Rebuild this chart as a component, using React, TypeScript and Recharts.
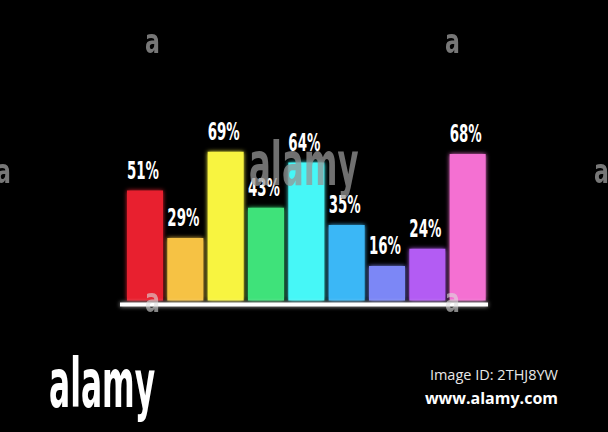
import React from 'react';
import { Bar, BarChart, Cell, LabelList, ReferenceLine, XAxis, YAxis } from 'recharts';

const CATEGORIES = ['A', 'B', 'C', 'D', 'E', 'F', 'G', 'H', 'I'];
const VALUES = [51, 29, 69, 43, 64, 35, 16, 24, 68];
const BAR_COLORS = [
  '#e8202f',
  '#f6c244',
  '#f8f440',
  '#3fe27a',
  '#46f7f7',
  '#3bb7f6',
  '#7c87f6',
  '#b35cf3',
  '#f470d2',
];

const data = CATEGORIES.map((name, i) => ({ name, value: VALUES[i] }));

const CONDENSED = "'DejaVu Sans Condensed', 'Liberation Sans Narrow', 'DejaVu Sans', sans-serif";

// value label drawn narrow, like the condensed display face in the reference
function PercentLabel(props: any) {
  const { x, y, width, value } = props;
  const cx = Number(x) + Number(width) / 2 - 2;
  const cy = Number(y) - 12;
  return (
    <text
      transform={`translate(${cx},${cy}) scale(0.62,1)`}
      x={0}
      y={0}
      textAnchor="middle"
      fill="#ffffff"
      fontFamily={CONDENSED}
      fontWeight="bold"
      fontSize={24}
    >
      {`${value}%`}
    </text>
  );
}

const mark = (x: number, y: number, size: number, color: string, text = 'a', sx = 0.72) => (
  <div
    style={{
      position: 'absolute',
      left: x,
      top: y,
      fontFamily: CONDENSED,
      fontWeight: 'bold',
      fontSize: size,
      lineHeight: 1,
      color,
      transform: `scaleX(${sx})`,
      transformOrigin: 'left top',
      pointerEvents: 'none',
      whiteSpace: 'nowrap',
    }}
  >
    {text}
  </div>
);

export default function App() {
  return (
    <div
      style={{
        position: 'absolute',
        left: 0,
        top: 0,
        width: 608,
        height: 432,
        background: '#000000',
        overflow: 'hidden',
      }}
    >
      <BarChart
        width={608}
        height={432}
        data={data}
        margin={{ top: 85, right: 120, bottom: 125, left: 120 }}
        barCategoryGap={2}
      >
        <XAxis dataKey="name" hide padding={{ left: 5, right: 0 }} />
        <YAxis hide domain={[-3, 100]} />
        <ReferenceLine
          y={-1.8}
          stroke="#ffffff"
          strokeWidth={4}
          style={{ filter: 'drop-shadow(0 0 2px rgba(255,255,255,0.7))' }}
        />
        <Bar dataKey="value" isAnimationActive={false}>
          {data.map((_, i) => (
            <Cell
              key={i}
              fill={BAR_COLORS[i]}
              style={{ filter: `drop-shadow(0 0 2px ${BAR_COLORS[i]})` }}
            />
          ))}
          <LabelList dataKey="value" content={PercentLabel} />
        </Bar>
      </BarChart>

      {/* stock-photo watermarks */}
      {mark(145, 24, 34, 'rgba(140,140,140,0.85)')}
      {mark(445, 24, 34, 'rgba(140,140,140,0.85)')}
      {mark(-4, 154, 34, 'rgba(140,140,140,0.85)')}
      {mark(594, 154, 34, 'rgba(140,140,140,0.85)')}
      {mark(145, 283, 34, 'rgba(220,220,220,0.6)')}
      {mark(445, 283, 34, 'rgba(220,220,220,0.6)')}
      {mark(249, 134, 60, 'rgba(150,150,150,0.75)', 'alamy', 0.6)}

      {/* footer */}
      {mark(49, 351, 67, '#ffffff', 'alamy', 0.52)}
      <div
        style={{
          position: 'absolute',
          right: 50,
          top: 365,
          fontFamily: "'Open Sans', sans-serif",
          fontSize: 14.5,
          color: '#e8e8e8',
          textAlign: 'right',
        }}
      >
        Image ID: 2THJ8YW
      </div>
      <div
        style={{
          position: 'absolute',
          right: 50,
          top: 387,
          fontFamily: "'Open Sans', sans-serif",
          fontSize: 16,
          fontWeight: 'bold',
          color: '#ffffff',
          textAlign: 'right',
        }}
      >
        www.alamy.com
      </div>
    </div>
  );
}
